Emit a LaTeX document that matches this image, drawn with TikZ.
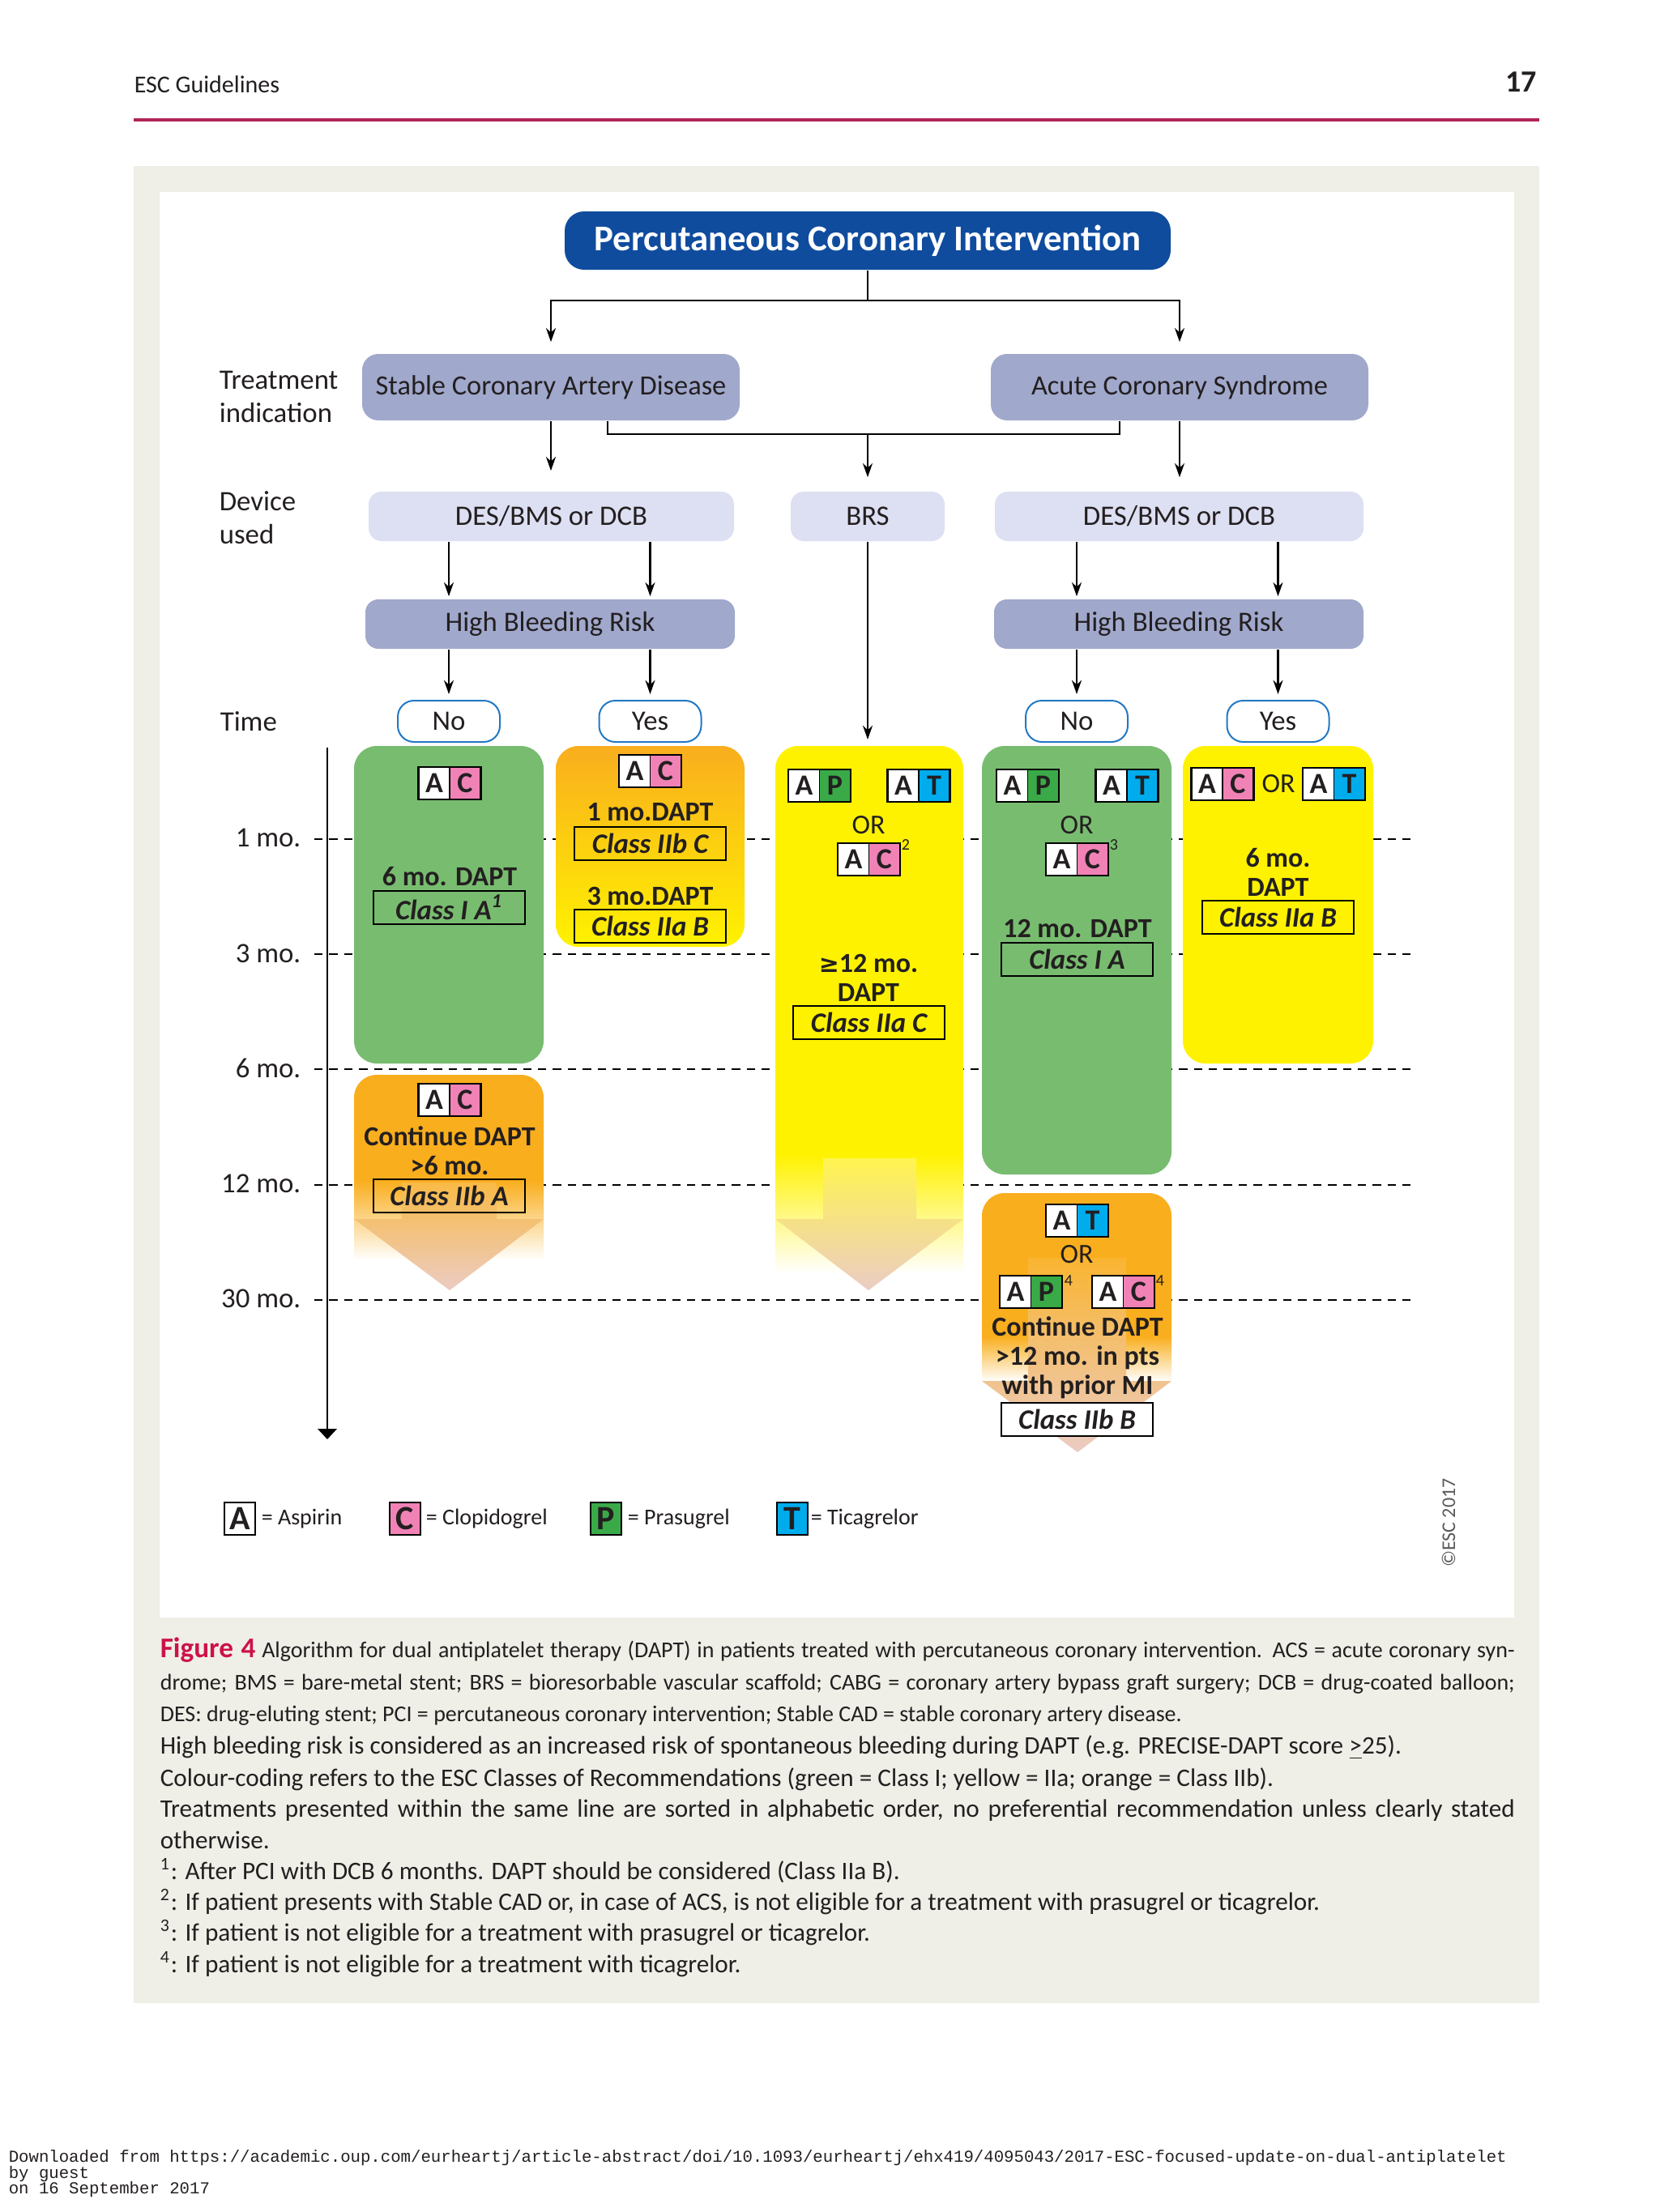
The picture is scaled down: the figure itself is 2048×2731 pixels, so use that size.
\documentclass[tikz,border=0pt]{standalone}
\usepackage{fontspec}
\setmainfont{Carlito}
\newfontfamily\dvfont{DejaVu Sans}
\newfontfamily\monofont{Liberation Mono}
\usetikzlibrary{arrows.meta,calc}
\newcommand{\fsz}[1]{\fontsize{#1}{#1}\selectfont}
\definecolor{pciblue}{RGB}{16,76,158}
\definecolor{peri}{RGB}{160,168,204}
\definecolor{lav}{RGB}{221,223,242}
\definecolor{gcol}{RGB}{120,188,112}
\definecolor{ycol}{RGB}{255,242,0}
\definecolor{ocol}{RGB}{249,174,30}
\definecolor{cpink}{RGB}{240,130,182}
\definecolor{pgreen}{RGB}{58,170,72}
\definecolor{tblue}{RGB}{0,172,236}
\definecolor{nyblue}{RGB}{35,120,195}
\definecolor{framec}{RGB}{239,239,231}
\definecolor{figred}{RGB}{205,18,72}
\definecolor{hdrred}{RGB}{178,36,88}
\definecolor{tipc}{RGB}{235,204,196}
\definecolor{ytop}{RGB}{255,244,80}
\definecolor{ymid}{RGB}{243,224,160}
\definecolor{otop}{RGB}{249,186,70}
\definecolor{omid}{RGB}{242,200,150}
\definecolor{inkc}{RGB}{35,31,32}
\newcommand{\badge}[5]{%
  \node[cell, fill=white] (#1a) at (#2-19,#3) {A};
  \node[cell, fill=#5] (#1b) at (#2+19,#3) {#4};
  \draw[line width=0.6pt] (#1a.north west) rectangle (#1b.south east);
}
\tikzset{
  every node/.style={inner sep=0pt, text=inkc},
  arr/.style={-{Stealth[length=4.3pt,width=3pt]}, line width=0.6pt},
  ln/.style={line width=0.6pt},
  tbox/.style={fill=peri, rounded corners=5pt, minimum height=20.5pt, minimum width=116.5pt, font=\fsz{8.6}},
  dbox/.style={fill=lav, rounded corners=4pt, minimum height=15.25pt, font=\fsz{8.7}},
  hbox/.style={fill=peri, rounded corners=4pt, minimum height=15.25pt, minimum width=114pt, font=\fsz{8.7}},
  yn/.style={draw=nyblue, line width=0.5pt, fill=white, rounded corners=5pt, minimum width=31.5pt, minimum height=12.75pt, font=\fsz{8.7}},
  side/.style={anchor=west, align=left, font=\fontsize{8.7}{10.2}\selectfont},
  tlabel/.style={anchor=east, font=\fsz{8.7}},
  dl/.style={line width=0.7pt, dash pattern=on 2.6pt off 2pt},
  bt/.style={font=\fontsize{8.5}{9}\selectfont\bfseries, align=center},
  cls/.style={draw, line width=0.5pt, minimum width=46.75pt, minimum height=10.25pt, font=\fsz{8.7}\bfseries\itshape},
  orl/.style={font=\fsz{8.5}},
  cell/.style={draw, line width=0.3pt, minimum width=9.5pt, minimum height=9.75pt, font=\fsz{9}\bfseries},
  sup/.style={font=\fsz{5}},
  lgc/.style={draw, line width=0.6pt, minimum width=9.5pt, minimum height=10pt, font=\fsz{10.5}\bfseries},
  lgt/.style={anchor=west, font=\fsz{7}},
  capl/.style={anchor=base west, font=\fsz{7.0}},
  capm/.style={anchor=base west, font=\fsz{7.8}},
  foot/.style={anchor=base west, font=\monofont\fsz{5.17}},
}
\begin{document}
\begin{tikzpicture}[x=0.25pt, y=-0.25pt]
\useasboundingbox (0,0) rectangle (2048,2731);
\fill[white] (0,0) rectangle (2048,2731);
% header
\node[anchor=west, font=\fsz{7.5}] (hdr) at (165,104) {ESC Guidelines};
\node[anchor=east, font=\fsz{9.5}\bfseries] (pg) at (1898,101) {17};
\draw[hdrred, line width=0.8pt] (165,148) -- (1900,148);
% frame
\fill[framec] (165,205) rectangle (1900,2473);
\fill[white] (197,237) rectangle (1869,1997);
% time grid
\node[tlabel] (t1) at (372,1034) {1 mo.};
\node[tlabel] (t3) at (372,1177) {3 mo.};
\node[tlabel] (t6) at (372,1319) {6 mo.};
\node[tlabel] (t12) at (372,1461) {12 mo.};
\node[tlabel] (t30) at (372,1603) {30 mo.};
\foreach \yy in {1036,1178,1320,1463,1605}{\draw[dl] (388,\yy) -- (1741,\yy);}
\coordinate (ax0) at (404,923);
\coordinate (ax1) at (404,1777);
\draw[line width=0.55pt, -{Triangle[width=5.8pt,length=3.2pt]}] (ax0) -- (ax1);
% side labels
\node[side] (lt) at (270,490) {Treatment\\indication};
\node[side] (ld) at (270,639) {Device\\used};
\node[anchor=west, font=\fsz{8.7}] (ltime) at (271,891) {Time};
% title and boxes
\node[fill=pciblue, rounded corners=6pt, minimum width=187pt, minimum height=18pt, font=\fsz{11.2}\bfseries, text=white] (title) at (1071,297) {Percutaneous Coronary Intervention};
\node[tbox] (scad) at (680,478) {Stable Coronary Artery Disease};
\node[tbox] (acs) at (1456,478) {Acute Coronary Syndrome};
\node[dbox, minimum width=112.75pt] (desl) at (680.5,637.5) {DES/BMS or DCB};
\node[dbox, minimum width=47.5pt] (brs) at (1071,637.5) {BRS};
\node[dbox, minimum width=113.75pt] (desr) at (1455.5,637.5) {DES/BMS or DCB};
\node[hbox] (hbrl) at (679,770.5) {High Bleeding Risk};
\node[hbox] (hbrr) at (1455,770.5) {High Bleeding Risk};
\node[yn] (nol) at (554,890.5) {No};
\node[yn] (yesl) at (802.5,890.5) {Yes};
\node[yn] (nor) at (1329,890.5) {No};
\node[yn] (yesr) at (1577.5,890.5) {Yes};
% connectors
\coordinate (j1) at (1071,371);
\draw[ln] (title.south) -- (j1);
\draw[arr] (j1) -| ([yshift=3.5pt]scad.north);
\draw[arr] (j1) -| ([yshift=3.5pt]acs.north);
\draw[arr] (scad.south) -- ([yshift=6.25pt]scad.south |- desl.north);
\coordinate (j2) at (1071,536);
\draw[ln] ([xshift=17.5pt]scad.south) |- (j2) -| ([xshift=-18.5pt]acs.south);
\draw[arr] (j2) -- ([yshift=4.25pt]brs.north);
\draw[arr] (acs.south) -- ([yshift=4.25pt]acs.south |- desr.north);
\draw[arr] (desl.south -| nol.north) -- ([yshift=0.75pt]hbrl.north -| nol.north);
\draw[arr] (desl.south -| yesl.north) -- ([yshift=0.75pt]hbrl.north -| yesl.north);
\draw[arr] (desr.south -| nor.north) -- ([yshift=0.75pt]hbrr.north -| nor.north);
\draw[arr] (desr.south -| yesr.north) -- ([yshift=0.75pt]hbrr.north -| yesr.north);
\draw[arr] (hbrl.south -| nol.north) -- ([yshift=1.75pt]nol.north);
\draw[arr] (hbrl.south -| yesl.north) -- ([yshift=1.75pt]yesl.north);
\draw[arr] (hbrr.south -| nor.north) -- ([yshift=1.75pt]nor.north);
\draw[arr] (hbrr.south -| yesr.north) -- ([yshift=1.75pt]yesr.north);
\coordinate (c3top) at (1071,921);
\draw[arr] (brs.south) -- ([yshift=2pt]c3top);
% column fills
\fill[gcol, rounded corners=7pt] (437,921) rectangle (671,1313);
\shade[top color=ocol, middle color=ocol!45!ycol, bottom color=ycol, rounded corners=7pt] (686,921) rectangle (919,1169);
\fill[ycol, rounded corners=7pt] (957,921) rectangle (1189,1450);
\shade[top color=ycol, bottom color=white] (957,1425) rectangle (1189,1572);
\shade[top color=ytop, middle color=ymid, bottom color=tipc] (1016,1430) -- (1131,1430) -- (1131,1505) -- (1189,1505) -- (1072,1593) -- (957,1505) -- (1016,1505) -- cycle;
\fill[gcol, rounded corners=7pt] (1212,921) rectangle (1446,1450);
\fill[ycol, rounded corners=7pt] (1460,921) rectangle (1695,1313);
\fill[ocol, rounded corners=7pt] (437,1327) rectangle (671,1485);
\shade[top color=ocol, bottom color=white] (437,1458) rectangle (671,1556);
\shade[top color=otop, middle color=omid, bottom color=tipc] (496,1460) -- (613,1460) -- (613,1505) -- (671,1505) -- (555,1593) -- (437,1505) -- (496,1505) -- cycle;
\fill[ocol, rounded corners=7pt] (1212,1473) rectangle (1446,1675);
\shade[top color=ocol, bottom color=white] (1212,1650) rectangle (1446,1706);
\shade[top color=ocol!92!white, middle color=omid, bottom color=tipc] (1269,1553) -- (1390,1553) -- (1390,1705) -- (1446,1705) -- (1330,1793) -- (1212,1705) -- (1269,1705) -- cycle;
% col1
\badge{ca}{555}{967}{C}{cpink}
\node[bt] (c1t) at (555,1082) {6 mo. DAPT};
\node[cls] (c1c) at (554.5,1120) {Class I A\textsuperscript{1}};
% col2
\badge{cb}{802.5}{952}{C}{cpink}
\node[bt] (c2t) at (802.5,1003) {1 mo.DAPT};
\node[cls] (c2c) at (802.5,1041) {Class IIb C};
\node[bt] (c2u) at (802.5,1106) {3 mo.DAPT};
\node[cls] (c2d) at (802.5,1143) {Class IIa B};
% col3
\badge{cc}{1011.5}{970}{P}{pgreen}
\badge{cd}{1134}{970}{T}{tblue}
\node[orl] (c3or) at (1072,1019) {OR};
\badge{ce}{1072.5}{1061}{C}{cpink}
\node[sup] (c3s) at (1118,1043) {2};
\node[bt] (c3t) at (1072,1207) {{\dvfont\bfseries\fsz{7.5}≥}12 mo.\\DAPT};
\node[cls] (c3c) at (1072.5,1262) {Class IIa C};
% col4
\badge{cf}{1268.5}{970}{P}{pgreen}
\badge{cg}{1391}{970}{T}{tblue}
\node[orl] (c4or) at (1329,1019) {OR};
\badge{ch}{1329.5}{1061}{C}{cpink}
\node[sup] (c4s) at (1375,1043) {3};
\node[bt] (c4t) at (1330,1146) {12 mo. DAPT};
\node[cls] (c4c) at (1329.5,1184) {Class I A};
% col5
\badge{ci}{1509}{968}{C}{cpink}
\node[orl] (c5or) at (1578,968) {OR};
\badge{cj}{1646.5}{968}{T}{tblue}
\node[bt] (c5t) at (1577.5,1077) {6 mo.\\DAPT};
\node[cls] (c5c) at (1577.5,1132) {Class IIa B};
% col1 lower
\badge{ck}{555}{1358}{C}{cpink}
\node[bt] (c6t) at (555,1421) {Continue DAPT\\>6 mo.};
\node[cls] (c6c) at (554.5,1476) {Class IIb A};
% col4 lower
\badge{cl}{1329.5}{1507}{T}{tblue}
\node[orl] (c7or) at (1329,1549) {OR};
\badge{cm}{1272.5}{1595}{P}{pgreen}
\node[sup] (c7s1) at (1319,1581) {4};
\badge{cn}{1386.5}{1595}{C}{cpink}
\node[sup] (c7s2) at (1432,1581) {4};
\node[bt] (c7t) at (1330,1676) {Continue DAPT\\>12 mo. in pts\\with prior MI};
\node[cls, fill=white] (c7c) at (1329.5,1752) {Class IIb B};
% legend
\node[lgc, fill=white] (lga) at (296,1875) {A};
\node[lgt] (lgat) at (322,1875) {= Aspirin};
\node[lgc, fill=cpink] (lgc) at (500,1875) {C};
\node[lgt] (lgct) at (525,1875) {= Clopidogrel};
\node[lgc, fill=pgreen] (lgp) at (748,1875) {P};
\node[lgt] (lgpt) at (774,1875) {= Prasugrel};
\node[lgc, fill=tblue] (lgtb) at (978,1875) {T};
\node[lgt] (lgtt) at (1000,1875) {= Ticagrelor};
\node[rotate=90, font=\fsz{6}, text=black!65] (copy) at (1788,1880) {\textcopyright ESC 2017};
% caption
\node[capl] (cap1) at (197,2046) {\makebox[418pt][s]{\textcolor{figred}{\fsz{8.8}\bfseries Figure 4} Algorithm for dual antiplatelet therapy (DAPT) in patients treated with percutaneous coronary intervention. ACS = acute coronary syn-}};
\node[capl] (cap2) at (197,2086) {\makebox[418pt][s]{drome; BMS = bare-metal stent; BRS = bioresorbable vascular scaffold; CABG = coronary artery bypass graft surgery; DCB = drug-coated balloon;}};
\node[capl] (cap3) at (197,2125) {DES: drug-eluting stent; PCI = percutaneous coronary intervention; Stable CAD = stable coronary artery disease.};
\node[capm] (cap4) at (197,2165) {High bleeding risk is considered as an increased risk of spontaneous bleeding during DAPT (e.g. PRECISE-DAPT score \underline{>}25).};
\node[capm] (cap5) at (197,2205) {Colour-coding refers to the ESC Classes of Recommendations (green = Class I; yellow = IIa; orange = Class IIb).};
\node[capm] (cap6) at (197,2243) {\makebox[418pt][s]{Treatments presented within the same line are sorted in alphabetic order, no preferential recommendation unless clearly stated}};
\node[capm] (cap7) at (197,2282) {otherwise.};
\node[capm] (cap8) at (197,2320) {\textsuperscript{1}: After PCI with DCB 6 months. DAPT should be considered (Class IIa B).};
\node[capm] (cap9) at (197,2358) {\textsuperscript{2}: If patient presents with Stable CAD or, in case of ACS, is not eligible for a treatment with prasugrel or ticagrelor.};
\node[capm] (cap10) at (197,2396) {\textsuperscript{3}: If patient is not eligible for a treatment with prasugrel or ticagrelor.};
\node[capm] (cap11) at (197,2435) {\textsuperscript{4}: If patient is not eligible for a treatment with ticagrelor.};
% footer
\node[foot] (f1) at (10,2669) {Downloaded from https://academic.oup.com/eurheartj/article-abstract/doi/10.1093/eurheartj/ehx419/4095043/2017-ESC-focused-update-on-dual-antiplatelet};
\node[foot] (f2) at (10,2689) {by guest};
\node[foot] (f3) at (10,2708) {on 16 September 2017};
\end{tikzpicture}
\end{document}
